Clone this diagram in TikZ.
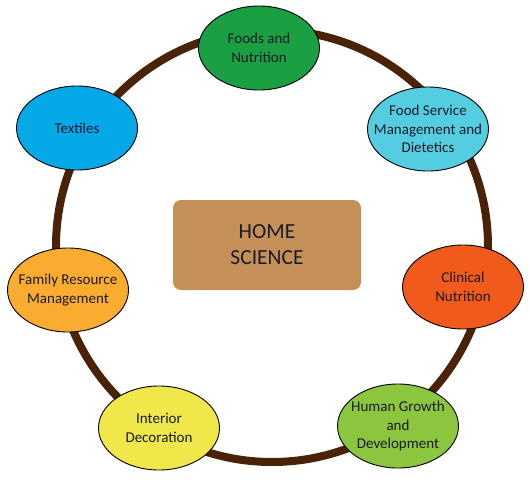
\documentclass[tikz,border=0pt]{standalone}
\usepackage{fontspec}
\setmainfont{Carlito}
\usetikzlibrary{shapes.geometric}
\definecolor{ringc}{HTML}{4A2208}
\definecolor{txt}{HTML}{1B1B2B}
\definecolor{cfoods}{HTML}{1AA043}
\definecolor{cservice}{HTML}{55CDE0}
\definecolor{ctext}{HTML}{05A9E8}
\definecolor{cclin}{HTML}{F05A1A}
\definecolor{cfam}{HTML}{F9AC2F}
\definecolor{cint}{HTML}{F0E84A}
\definecolor{chum}{HTML}{8CC63E}
\definecolor{cbox}{HTML}{C49058}
\tikzset{
  topic/.style={ellipse, draw=black, line width=0.9pt, minimum width=121pt, minimum height=84pt,
    inner sep=0pt},
  label/.style={align=center, text=txt, inner sep=0pt, font=\fontsize{15}{18.8}\selectfont},
  hub/.style={rounded corners=8pt, fill=cbox, minimum width=188pt, minimum height=90pt,
    align=center, text=txt, font=\fontsize{21.5}{26}\selectfont},
  ring/.style={draw=ringc, line width=8pt}
}
\begin{document}
\begin{tikzpicture}[x=1pt,y=-1pt]
\useasboundingbox (0,0) rectangle (531,488);
\coordinate (c) at (272,246);
\draw[ring] (c) circle[radius=216];
\node[hub] (hs) at (267,245) {HOME\\SCIENCE};
\node[topic, fill=cfoods] (fn) at (259,48) {};
\node[label] (fnt) at (fn) {Foods and\\Nutrition};
\node[topic, fill=cservice] (fs) at (428,129) {};
\node[label] (fst) at (fs) {Food Service\\Management and\\Dietetics};
\node[topic, fill=ctext] (tx) at (77,128) {};
\node[label] (txt) at (tx) {Textiles};
\node[topic, fill=cclin] (cn) at (463,287) {};
\node[label] (cnt) at (cn) {Clinical\\Nutrition};
\node[topic, fill=cfam] (fr) at (68,290) {};
\node[label] (frt) at (fr) {Family Resource\\Management};
\node[topic, fill=cint] (id) at (159,428) {};
\node[label] (idt) at (id) {Interior\\Decoration};
\node[topic, fill=chum] (hg) at (398,426) {};
\node[label] (hgt) at (hg) {Human Growth\\and\\Development};
\end{tikzpicture}
\end{document}
